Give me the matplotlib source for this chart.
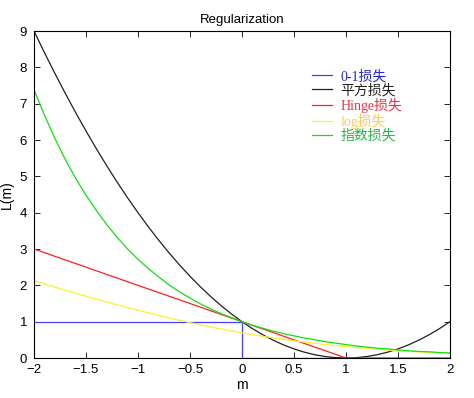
import numpy as np
import matplotlib
matplotlib.use('Agg')
import matplotlib.pyplot as plt

plt.rcParams['font.family'] = ['Liberation Sans', 'Noto Sans CJK SC']

# m grid, step 0.1
m = np.linspace(-2, 2, 41)

# values
square_loss = [9.00, 8.41, 7.84, 7.29, 6.76, 6.25, 5.76, 5.29, 4.84, 4.41,
               4.00, 3.61, 3.24, 2.89, 2.56, 2.25, 1.96, 1.69, 1.44, 1.21,
               1.00, 0.81, 0.64, 0.49, 0.36, 0.25, 0.16, 0.09, 0.04, 0.01,
               0.00, 0.01, 0.04, 0.09, 0.16, 0.25, 0.36, 0.49, 0.64, 0.81,
               1.00]
exp_loss = [7.39, 6.69, 6.05, 5.47, 4.95, 4.48, 4.06, 3.67, 3.32, 3.00,
            2.72, 2.46, 2.23, 2.01, 1.82, 1.65, 1.49, 1.35, 1.22, 1.11,
            1.00, 0.90, 0.82, 0.74, 0.67, 0.61, 0.55, 0.50, 0.45, 0.41,
            0.37, 0.33, 0.30, 0.27, 0.25, 0.22, 0.20, 0.18, 0.17, 0.15,
            0.14]
log_loss = [2.127, 2.039, 1.953, 1.868, 1.784, 1.701, 1.620, 1.541, 1.463, 1.387,
            1.313, 1.241, 1.171, 1.103, 1.037, 0.974, 0.913, 0.854, 0.798, 0.744,
            0.693, 0.644, 0.598, 0.554, 0.513, 0.474, 0.437, 0.403, 0.371, 0.341,
            0.313, 0.287, 0.263, 0.241, 0.220, 0.201, 0.184, 0.168, 0.153, 0.139,
            0.127]
hinge_m = [-2, 1, 2]
hinge_loss = [3, 0, 0]
zero_one_m = [-2, 0, 0, 2]
zero_one_loss = [1, 1, 0, 0]

xtick_vals = [-2, -1.5, -1, -0.5, 0, 0.5, 1, 1.5, 2]
xtick_labels = ['\u22122', '\u22121.5', '\u22121', '\u22120.5', '0', '0.5', '1', '1.5', '2']

labels = ['0-1损失', '平方损失', 'Hinge损失', 'log损失', '指数损失']
colors = ['#4040ff', '#202020', '#ff2020', '#ffee30', '#10e010']
text_colors = ['#2525dd', '#202020', '#ee3344', '#ffcc50', '#25b845']

fig = plt.figure(figsize=(4.74, 3.98), dpi=100)
ax = fig.add_axes([0.0717, 0.1005, 0.8776, 0.8215])

lw = 0.9
ax.plot(zero_one_m, zero_one_loss, color=colors[0], lw=lw, label=labels[0])
ax.plot(m, square_loss, color=colors[1], lw=lw, label=labels[1])
ax.plot(hinge_m, hinge_loss, color=colors[2], lw=lw, label=labels[2])
ax.plot(m, log_loss, color=colors[3], lw=lw, label=labels[3])
ax.plot(m, exp_loss, color=colors[4], lw=lw, label=labels[4])

ax.set_xlim(-2, 2)
ax.set_ylim(0, 9)
ax.set_xticks(xtick_vals)
ax.set_xticklabels(xtick_labels)
ax.set_yticks(range(0, 10))
ax.tick_params(direction='in', top=True, right=True, length=4, width=0.6,
               labelsize=9.5)
ax.tick_params(axis='x', pad=4)
ax.tick_params(axis='y', pad=5)
for s in ax.spines.values():
    s.set_linewidth(0.8)

ax.set_xlabel('m', fontsize=10, labelpad=2)
ax.set_ylabel('L(m)', fontsize=10, labelpad=4)
ax.set_title('Regularization', fontsize=9.5, pad=6)

leg = ax.legend(loc='upper left', bbox_to_anchor=(0.655, 0.899), frameon=False,
                handlelength=1.45, handletextpad=0.6, labelspacing=0.05,
                borderaxespad=0,
                prop={'family': ['Liberation Serif', 'Noto Sans CJK SC'], 'size': 10})
for t, c in zip(leg.get_texts(), text_colors):
    t.set_color(c)

fig.savefig('out.png', dpi=100)
